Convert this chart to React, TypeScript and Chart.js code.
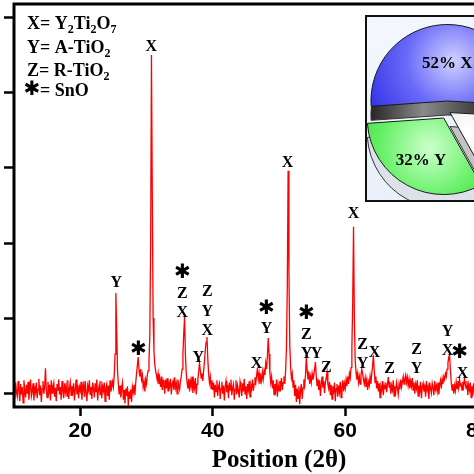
import { useEffect, useRef } from 'react';
import { Chart, registerables } from 'chart.js';

Chart.register(...registerables);

// XRD scan: counts every 0.125° of 2θ, from 10° to 80° (one row per degree)
const scanStart = 10;
const scanStep = 0.125;
const intensity = [
  35, -40, 70, 5, -25, 80, 15, -55, // 10
  60, -10, 40, -65, 85, 20, -30, 55, // 11
  -5, 75, -45, 30, 90, -20, 10, 65, // 12
  -50, 45, 5, 70, -35, 25, 95, -15, // 13
  50, -60, 30, 80, -5, 40, 165, 20, // 14
  -30, 75, 10, 55, -50, 85, 0, 45, // 15
  70, -25, 35, -55, 60, 15, 90, -10, // 16
  40, -45, 80, 20, -35, 65, 5, 50, // 17
  -20, 85, -40, 30, 70, -15, 45, 10, // 18
  65, -50, 25, 90, -10, 55, -35, 40, // 19
  15, 75, -45, 35, 60, -25, 80, 0, // 20
  -55, 50, 20, 85, -15, 40, -40, 70, // 21
  30, -30, 65, 5, 90, -50, 25, 55, // 22
  -10, 80, -35, 45, 15, 70, -55, 35, // 23
  60, -20, 50, -45, 85, 10, 40, 75, // 24
  40, 110, 260, 667, 420, 150, 60, -10, // 25
  50, -30, 35, 70, -45, 20, -70, 30, // 26
  -20, 45, -85, 10, -40, 25, -60, 40, // 27
  5, 55, -15, 70, 130, 185, 240, 150, // 28
  110, 160, 90, 120, 40, 75, 10, 90, // 29
  60, 120, 150, 220, 380, 1000, 2253, 1300, // 30
  500, 280, 190, 150, 120, 85, 130, 60, // 31
  95, 40, 110, 20, 85, 55, -5, 90, // 32
  30, 100, 15, 70, 45, 95, -10, 60, // 33
  80, 20, 105, 35, 65, -5, 90, 50, // 34
  25, 80, 110, 160, 260, 400, 507, 250, // 35
  130, 70, 30, 95, 10, 80, 45, 110, // 36
  0, 75, 35, 100, -10, 60, 90, 140, // 37
  200, 150, 100, 130, 80, 150, 210, 290, // 38
  340, 373, 230, 130, 70, 110, 30, 85, // 39
  20, 70, -30, 55, 10, 85, -20, 45, // 40
  65, -40, 30, 75, -5, 50, -50, 40, // 41
  80, 5, 55, -35, 70, 20, 90, -15, // 42
  35, 60, -45, 25, 85, -10, 50, 15, // 43
  -30, 75, 40, -20, 65, 10, 95, -5, // 44
  45, -40, 60, 20, 80, -25, 55, 30, // 45
  90, 15, 60, 105, 70, 120, 167, 90, // 46
  130, 60, 110, 80, 140, 95, 150, 120, // 47
  200, 160, 250, 367, 260, 130, 70, 110, // 48
  30, 85, -10, 60, 20, 90, -25, 55, // 49
  15, 80, 40, 100, 20, 70, 110, 60, // 50
  150, 300, 700, 1482, 800, 320, 180, 100, // 51
  130, 40, 85, -20, 55, -60, 30, -35, // 52
  45, -75, 20, 60, -40, 35, 90, 50, // 53
  120, 240, 150, 90, 140, 60, 110, 70, // 54
  130, 90, 120, 160, 207, 110, 50, 95, // 55
  20, 85, -20, 60, 110, 35, 80, 0, // 56
  70, 100, 140, 60, 30, 75, -15, 55, // 57
  -40, 45, 15, 70, -55, 30, 60, -25, // 58
  50, 5, 75, -30, 40, 85, 10, 65, // 59
  30, 90, 45, 110, 60, 130, 100, 170, // 60
  300, 600, 1109, 500, 220, 140, 90, 130, // 61
  70, 110, 60, 120, 160, 130, 90, 60, // 62
  100, 40, 85, 20, 75, 50, 110, 60, // 63
  130, 180, 253, 150, 70, 110, 30, 80, // 64
  10, 65, -30, 45, 20, 80, -15, 55, // 65
  30, 70, 5, 60, 107, 40, 75, -5, // 66
  50, 20, 85, -20, 45, 10, 70, 35, // 67
  -10, 60, 25, 90, 40, 75, 110, 60, // 68
  95, 120, 70, 105, 50, 90, 30, 80, // 69
  45, 100, 20, 70, -5, 60, 30, 85, // 70
  -20, 50, 15, 75, -35, 40, 65, 10, // 71
  55, -25, 80, 20, 45, -40, 70, 30, // 72
  0, 65, 35, -15, 80, 25, 50, 10, // 73
  70, -10, 55, 85, 30, 95, 60, 110, // 74
  90, 130, 110, 160, 200, 240, 253, 150, // 75
  70, 20, 60, -5, 50, 15, 75, 30, // 76
  80, 35, 90, 50, 60, 20, 75, 45, // 77
  100, 60, 30, 80, -15, 55, 20, 70, // 78
  -30, 45, 10, 65, -20, 50, 0, 40, // 79
  30, // 80
];

const xTicks = [20, 40, 60, 80];
const yTicks = [0, 500, 1000, 1500, 2000, 2500];

// Phase marks over the peaks: 2θ, counts at the lowest symbol, symbols listed top to bottom
const peakTheta = [25.44, 28.76, 30.73, 35.41, 37.82, 39.18, 46.59, 48.1, 51.27, 54.14, 55.65, 57.16, 61.24, 62.6, 64.41, 66.68, 70.76, 75.44, 77.25, 77.7];
const peakCounts = [740, 287, 2313, 540, 240, 420, 200, 433, 1540, 267, 267, 173, 1200, 200, 273, 167, 167, 287, 267, 133];
const peakSymbols = ['Y', '*', 'X', '*ZX', 'Y', 'ZYX', 'X', '*Y', 'X', '*ZY', 'Y', 'Z', 'X', 'ZY', 'X', 'Z', 'ZY', 'YX', '*', 'X'];

// Phase key: runs of [text, kind] where kind 0 = normal, 1 = subscript, 2 = asterisk mark
const phaseKey: [string, number][][] = [
  [['X= Y', 0], ['2', 1], ['Ti', 0], ['2', 1], ['O', 0], ['7', 1]],
  [['Y= A-TiO', 0], ['2', 1]],
  [['Z= R-TiO', 0], ['2', 1]],
  [['*', 2], ['= SnO', 0]],
];

// Phase fractions shown in the inset pie
const pieNames = ['X', 'Z', 'Y'];
const pieShares = [52, 16, 32];

const SERIF = '"Liberation Serif", "Times New Roman", serif';
const SANS = '"Liberation Sans", Arial, sans-serif';

function drawMark(ctx: CanvasRenderingContext2D, ch: string, x: number, y: number, size: number) {
  ctx.textAlign = 'center';
  if (ch === '*') {
    ctx.font = `bold ${size + 4}px "DejaVu Sans", sans-serif`;
    ctx.textBaseline = 'middle';
    ctx.fillText('\u2731', x, y);
  } else {
    ctx.font = `bold ${size}px ${SERIF}`;
    ctx.textBaseline = 'alphabetic';
    ctx.fillText(ch, x, y + size * 0.33);
  }
}

const xrdDecor = {
  id: 'xrdDecor',
  afterDatasetsDraw(chart: any) {
    const { ctx, chartArea: a, scales } = chart;
    const xs = scales.x;
    const ys = scales.y;
    ctx.save();
    ctx.strokeStyle = '#000';
    ctx.lineWidth = 3;
    ctx.strokeRect(a.left, a.top, a.right - a.left, a.bottom - a.top);

    ctx.fillStyle = '#000';
    peakTheta.forEach((t, i) => {
      const px = xs.getPixelForValue(t);
      const base = ys.getPixelForValue(peakCounts[i]);
      const chars = [...peakSymbols[i]].reverse();
      chars.forEach((ch, k) => drawMark(ctx, ch, px, base - k * 19.5, 16));
    });

    // phase key in the upper left corner
    const size = 18;
    const rowBase = [25, 49, 72, 92];
    phaseKey.forEach((row, r) => {
      let x = a.left + 13;
      const yb = a.top + rowBase[r];
      ctx.textBaseline = 'alphabetic';
      ctx.textAlign = 'left';
      row.forEach(([text, kind]) => {
        if (kind === 2) {
          ctx.font = `bold 20px "DejaVu Sans", sans-serif`;
          ctx.textBaseline = 'middle';
          ctx.textAlign = 'center';
          ctx.fillText('\u2731', x + 5, yb - 6);
          ctx.textBaseline = 'alphabetic';
          ctx.textAlign = 'left';
          x += 13;
          return;
        }
        const s = kind === 1 ? Math.round(size * 0.65) : size;
        ctx.font = `bold ${s}px ${SERIF}`;
        ctx.fillText(text, x, kind === 1 ? yb + size * 0.22 : yb);
        x += ctx.measureText(text).width;
      });
    });
    ctx.restore();
  },
};

// top faces of the pie slices
function faceFill(c: any) {
  const kind = c.dataIndex;
  const area = c.chart.chartArea;
  const fallback = ['#4040f0', '#e0e0e0', '#40e040'][kind];
  if (!area) return fallback;
  const g = c.chart.ctx;
  const cx = (area.left + area.right) / 2;
  const cy = (area.top + area.bottom) / 2;
  if (kind === 0) {
    const gr = g.createRadialGradient(cx + 6, cy - 40, 4, cx + 6, cy - 40, 100);
    gr.addColorStop(0, '#c8c8ff');
    gr.addColorStop(0.45, '#6a6af8');
    gr.addColorStop(1, '#2c2ce6');
    return gr;
  }
  if (kind === 1) {
    const gr = g.createRadialGradient(cx + 20, cy + 20, 4, cx + 20, cy + 20, 90);
    gr.addColorStop(0, '#ffffff');
    gr.addColorStop(1, '#bdbdbd');
    return gr;
  }
  const gr = g.createRadialGradient(cx - 14, cy + 30, 4, cx - 14, cy + 30, 95);
  gr.addColorStop(0, '#c4ffc4');
  gr.addColorStop(0.5, '#66f066');
  gr.addColorStop(1, '#2ed62e');
  return gr;
}

// the slices' thickness, seen below the top faces
function sideFill(c: any) {
  const kind = c.dataIndex;
  const area = c.chart.chartArea;
  if (!area) return '#555';
  if (kind !== 0) return kind === 1 ? '#c4c4c4' : '#dde2e8';
  const g = c.chart.ctx;
  const gr = g.createLinearGradient(area.left, 0, area.right, 0);
  gr.addColorStop(0, '#1e1e1e');
  gr.addColorStop(0.35, '#8a8a8a');
  gr.addColorStop(0.7, '#3a3a3a');
  gr.addColorStop(1, '#222');
  return gr;
}

// how far each slice is pulled out from the centre, in pixels
const pieExplode = [10, 3, 8];
const pieLabelReach = [0.5, 0.75, 0.62];

// draws each arc shifted along its bisector (exploded pie)
const explode = {
  id: 'explode',
  beforeDatasetsDraw(chart: any) {
    const { ctx } = chart;
    chart.getDatasetMeta(0).data.forEach((arc: any, i: number) => {
      const mid = (arc.startAngle + arc.endAngle) / 2;
      ctx.save();
      ctx.translate(Math.cos(mid) * pieExplode[i], Math.sin(mid) * pieExplode[i]);
      arc.draw(ctx);
      ctx.restore();
    });
    return false;
  },
};

const pieText = {
  id: 'pieText',
  afterDraw(chart: any) {
    const { ctx } = chart;
    const meta = chart.getDatasetMeta(0);
    ctx.save();
    ctx.fillStyle = '#000';
    ctx.font = `bold 17px ${SERIF}`;
    ctx.textAlign = 'center';
    ctx.textBaseline = 'alphabetic';
    meta.data.forEach((arc: any, i: number) => {
      const mid = (arc.startAngle + arc.endAngle) / 2;
      const d = pieExplode[i] + arc.outerRadius * pieLabelReach[i];
      const x = arc.x + Math.cos(mid) * d;
      const y = arc.y + Math.sin(mid) * d;
      ctx.fillText(`${pieShares[i]}% ${pieNames[i]}`, x, y + 17 * 0.33);
    });
    ctx.restore();
  },
};

function pieConfig(side: boolean): any {
  return {
    type: 'pie',
    data: {
      labels: pieNames,
      datasets: [
        {
          data: pieShares,
          backgroundColor: side ? sideFill : faceFill,
          borderColor: side ? '#333' : '#1a1a1a',
          borderWidth: 1,
          radius: 76.5,
          rotation: -94,
        },
      ],
    },
    options: {
      responsive: false,
      animation: false,
      events: [],
      layout: { padding: { top: 6, right: 2 } },
      plugins: { legend: { display: false }, tooltip: { enabled: false } },
    },
    plugins: side ? [explode] : [explode, pieText],
  };
}

export default function App() {
  const mainRef = useRef<HTMLCanvasElement>(null);
  const pieRef = useRef<HTMLCanvasElement>(null);
  const sideRef = useRef<HTMLCanvasElement>(null);

  useEffect(() => {
    const main = new Chart(mainRef.current as HTMLCanvasElement, {
      type: 'line',
      data: {
        datasets: [
          {
            data: intensity.map((v, i) => ({ x: scanStart + i * scanStep, y: v })),
            borderColor: '#ff0000',
            borderWidth: 1.3,
            pointRadius: 0,
            tension: 0,
            fill: false,
          },
        ],
      },
      options: {
        responsive: false,
        animation: false,
        events: [],
        layout: { padding: { top: 4, right: 16, left: 0, bottom: 0 } },
        plugins: { legend: { display: false }, tooltip: { enabled: false } },
        scales: {
          x: {
            type: 'linear',
            min: 10,
            max: 90,
            afterBuildTicks: (s: any) => {
              s.ticks = xTicks.map((v) => ({ value: v }));
            },
            afterFit: (s: any) => {
              s.height = 67;
            },
            grid: { display: true, drawOnChartArea: false, drawTicks: true, tickLength: 9, tickWidth: 2.5, tickColor: '#000' },
            border: { display: false },
            ticks: { color: '#000', font: { family: SANS, size: 21, weight: 'bold' }, padding: 3, maxRotation: 0, autoSkip: false },
            title: {
              display: true,
              text: 'Position (2θ)',
              color: '#000',
              font: { family: SERIF, size: 25, weight: 'bold', lineHeight: 1.1 },
              padding: { top: 0, bottom: 0 },
            },
          },
          y: {
            type: 'linear',
            min: -93,
            max: 2593,
            afterBuildTicks: (s: any) => {
              s.ticks = yTicks.map((v) => ({ value: v }));
            },
            afterFit: (s: any) => {
              s.width = 10;
            },
            grid: { display: true, drawOnChartArea: false, drawTicks: true, tickLength: 10, tickWidth: 2.5, tickColor: '#000' },
            border: { display: false },
            ticks: { display: false },
          },
        },
      } as any,
      plugins: [xrdDecor],
    });
    const side = new Chart(sideRef.current as HTMLCanvasElement, pieConfig(true));
    const pie = new Chart(pieRef.current as HTMLCanvasElement, pieConfig(false));
    return () => {
      main.destroy();
      side.destroy();
      pie.destroy();
    };
  }, []);

  return (
    <div style={{ position: 'fixed', left: 0, top: 0, width: 474, height: 474, overflow: 'hidden', background: '#fff' }}>
      <canvas ref={mainRef} width={556} height={474} style={{ position: 'absolute', left: 4, top: 0 }} />
      <div
        style={{
          position: 'absolute',
          left: 365,
          top: 15,
          width: 168,
          height: 187,
          border: '2.5px solid #111',
          boxSizing: 'border-box',
          overflow: 'hidden',
          background: 'linear-gradient(160deg, #f4f8fd 0%, #e6eef9 100%)',
        }}
      >
        <canvas ref={sideRef} width={163} height={182} style={{ position: 'absolute', left: 0, top: 14 }} />
        <canvas ref={pieRef} width={163} height={182} style={{ position: 'absolute', left: 0, top: 0 }} />
      </div>
    </div>
  );
}
